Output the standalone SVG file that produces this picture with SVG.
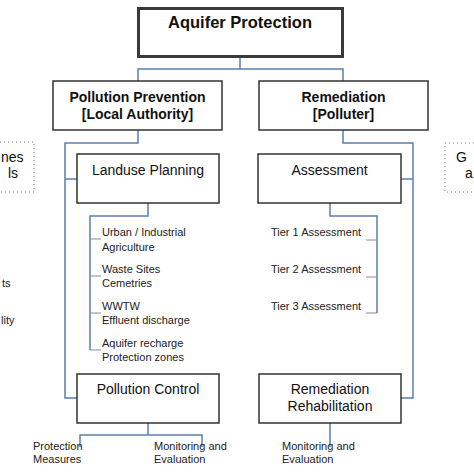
<svg xmlns="http://www.w3.org/2000/svg" width="474" height="474" viewBox="0 0 474 474">
<style>
.box{fill:#fff;stroke:#333;stroke-width:1.5}
.top{fill:#fff;stroke:#3a3a3a;stroke-width:3}
.con{fill:none;stroke:#5b7fb0;stroke-width:1.5}
.tick{fill:none;stroke:#8a8a8a;stroke-width:1}
.dot{fill:none;stroke:#777;stroke-width:1;stroke-dasharray:1 3}
.b{font-family:"Liberation Sans",Arial,sans-serif;font-weight:bold;font-size:14px;fill:#111;text-anchor:middle}
.m{font-family:"Liberation Sans",Arial,sans-serif;font-size:14px;fill:#111;text-anchor:middle}
.s{font-family:"Liberation Sans",Arial,sans-serif;font-size:11px;fill:#222}
</style>
<rect width="474" height="474" fill="#fff"/>
<g id="connectors">
<path class="con" d="M240 57V69M138 81V69H343V81"/>
<path class="con" d="M138 130V143H65V398H77M65 179H77"/>
<path class="con" d="M343 130V143H413V398H401M413 179H401"/>
<path class="con" d="M148 203V216H90V350"/>
<path class="tick" d="M90 239H101M90 276H101M90 313H101M90 350H101"/>
<path class="con" d="M330 203V216H377V313"/>
<path class="tick" d="M366 240H377M366 277H377M366 313H377"/>
<path class="con" d="M148 423V435M80 447V435H202V447"/>
<path class="con" d="M330 423V447"/>
</g>
<g id="aquifer-protection">
<rect class="top" x="138.5" y="8.5" width="204" height="48"/>
<text class="b" x="240" y="28" style="font-size:16.5px">Aquifer Protection</text>
</g>
<g id="pollution-prevention">
<rect class="box" x="53" y="81" width="169" height="49"/>
<text class="b" x="137.5" y="102">Pollution Prevention</text>
<text class="b" x="137.5" y="119">[Local Authority]</text>
</g>
<g id="remediation">
<rect class="box" x="259" y="81" width="169" height="49"/>
<text class="b" x="343.5" y="102">Remediation</text>
<text class="b" x="343.5" y="119">[Polluter]</text>
</g>
<g id="landuse-planning">
<rect class="box" x="77" y="154" width="142" height="49"/>
<text class="m" x="148" y="175">Landuse Planning</text>
</g>
<g id="landuse-items">
<text class="s" x="102" y="236">Urban / Industrial</text>
<text class="s" x="102" y="251">Agriculture</text>
<text class="s" x="102" y="273">Waste Sites</text>
<text class="s" x="102" y="287">Cemetries</text>
<text class="s" x="102" y="310">WWTW</text>
<text class="s" x="102" y="324">Effluent discharge</text>
<text class="s" x="102" y="347">Aquifer recharge</text>
<text class="s" x="102" y="361">Protection zones</text>
</g>
<g id="assessment">
<rect class="box" x="258" y="154" width="143" height="49"/>
<text class="m" x="329.5" y="175">Assessment</text>
</g>
<g id="assessment-items">
<text class="s" x="271" y="236">Tier 1 Assessment</text>
<text class="s" x="271" y="273">Tier 2 Assessment</text>
<text class="s" x="271" y="310">Tier 3 Assessment</text>
</g>
<g id="pollution-control">
<rect class="box" x="77" y="374" width="142" height="49"/>
<text class="m" x="148" y="394">Pollution Control</text>
</g>
<g id="remediation-rehabilitation">
<rect class="box" x="259" y="374" width="142" height="49"/>
<text class="m" x="330" y="394">Remediation</text>
<text class="m" x="330" y="411">Rehabilitation</text>
</g>
<g id="bottom-items">
<text class="s" x="33" y="450">Protection</text>
<text class="s" x="33" y="463">Measures</text>
<text class="s" x="154" y="450">Monitoring and</text>
<text class="s" x="154" y="463">Evaluation</text>
<text class="s" x="282" y="450">Monitoring and</text>
<text class="s" x="282" y="463">Evaluation</text>
</g>
<g id="left-partial">
<path class="dot" d="M0 142H34V192H0"/>
<text class="m" x="1" y="162" style="text-anchor:start">nes</text>
<text class="m" x="8" y="178" style="text-anchor:start">ls</text>
<text class="s" x="2" y="287" style="text-anchor:start">ts</text>
<text class="s" x="1" y="324" style="text-anchor:start">lity</text>
</g>
<g id="right-partial">
<path class="dot" d="M474 143H445V192H474"/>
<text class="m" x="456" y="162" style="text-anchor:start">G</text>
<text class="m" x="465" y="178" style="text-anchor:start">a</text>
</g>
</svg>
